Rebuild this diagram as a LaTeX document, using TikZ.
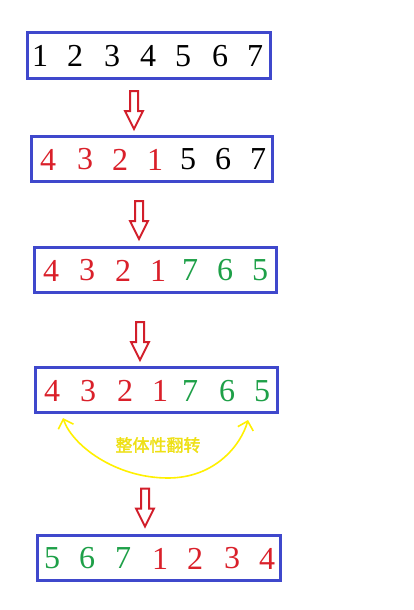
\documentclass[tikz,border=0pt]{standalone}
\usepackage{fontspec}
\setmainfont{Liberation Serif}
\newfontfamily\cjk[FakeBold=1.8]{Noto Sans CJK SC}
\usetikzlibrary{arrows.meta}
\definecolor{boxblue}{RGB}{63,72,204}
\definecolor{dred}{RGB}{218,32,42}
\definecolor{dgreen}{RGB}{30,160,72}
\definecolor{ayel}{RGB}{255,240,0}
\definecolor{tyel}{RGB}{238,224,20}
\definecolor{ared}{RGB}{210,30,42}
\tikzset{
  numbox/.style={draw=boxblue, line width=3pt, minimum width=#1, minimum height=45pt, inner sep=0pt},
  dg/.style={font=\fontsize{32}{32}\selectfont, inner sep=0pt, anchor=center},
  r/.style={dg, text=dred},
  g/.style={dg, text=dgreen},
  k/.style={dg, text=black},
  downarrow/.pic={\draw[draw=ared, fill=white, line width=2pt, line join=miter]
     (-4,-19) -- (4,-19) -- (4,1) -- (9,1) -- (0,19) -- (-9,1) -- (-4,1) -- cycle;},
  flip/.style={draw=ayel, line width=1.6pt, {Straight Barb[length=8pt,width=16pt]}-{Straight Barb[length=8pt,width=16pt]}}
}
\begin{document}
\begin{tikzpicture}[x=1pt,y=-1pt]
\useasboundingbox[fill=white] (0,0) rectangle (413,610);
% box 1
\node[numbox=243pt] (b1) at (148.5,55.5) {};
\foreach \x/\d/\s [count=\i] in {40/1/k,75/2/k,112/3/k,148/4/k,183/5/k,220/6/k,255/7/k}
  \node[\s] (b1d\i) at (\x,56) {\d};
% box 2
\node[numbox=241pt] (b2) at (151.5,159) {};
\foreach \x/\d/\s [count=\i] in {48/4/r,85/3/r,120/2/r,155/1/r,188/5/k,223/6/k,258/7/k}
  \node[\s] (b2d\i) at (\x,159.5) {\d};
% box 3
\node[numbox=242pt] (b3) at (155,270) {};
\foreach \x/\d/\s [count=\i] in {51/4/r,87/3/r,123/2/r,158/1/r,190/7/g,225/6/g,260/5/g}
  \node[\s] (b3d\i) at (\x,270.5) {\d};
% box 4
\node[numbox=242pt] (b4) at (156,390) {};
\foreach \x/\d/\s [count=\i] in {52/4/r,88/3/r,125/2/r,160/1/r,190/7/g,227/6/g,262/5/g}
  \node[\s] (b4d\i) at (\x,391) {\d};
% box 5
\node[numbox=243pt] (b5) at (158.5,558) {};
\foreach \x/\d/\s [count=\i] in {52/5/g,87/6/g,123/7/g,160/1/r,195/2/r,232/3/r,267/4/r}
  \node[\s] (b5d\i) at (\x,558.5) {\d};
% block arrows
\coordinate (a1) at (134,110);
\coordinate (a2) at (139,220);
\coordinate (a3) at (140,341);
\coordinate (a4) at (145,507.5);
\foreach \a in {a1,a2,a3,a4} \pic at (\a) {downarrow};
% flip arc
\coordinate (fl) at (63,418);
\coordinate (fm) at (168,478);
\coordinate (fr) at (248,420);
\draw[flip] (fl) .. controls (72,445) and (115,478) .. (fm) .. controls (215,478) and (241,445) .. (fr);
\node[text=tyel, font=\cjk\fontsize{17}{17}\selectfont, inner sep=0pt] (ft) at (158,445) {整体性翻转};
\end{tikzpicture}
\end{document}
